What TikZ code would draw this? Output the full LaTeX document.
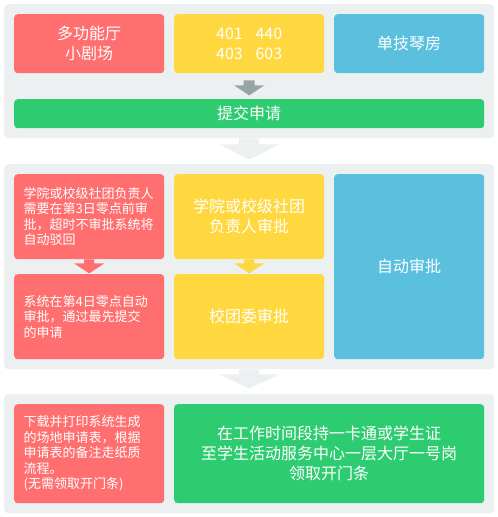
\documentclass[tikz,border=0pt]{standalone}
\usepackage{fontspec}
\setmainfont{Noto Sans CJK SC}
\definecolor{panelgray}{HTML}{ECF0F1}
\definecolor{arrowgray}{HTML}{95A5A6}
\definecolor{cred}{HTML}{FF6F6F}
\definecolor{cyellow}{HTML}{FFD83F}
\definecolor{cblue}{HTML}{5BC0DE}
\definecolor{cgreen}{HTML}{2ECC71}
\tikzset{
  panel/.style={fill=panelgray, rounded corners=4pt, anchor=north west, inner sep=0pt},
  card/.style={rounded corners=3.5pt, anchor=north west, inner sep=0pt, text=white,
    minimum width=150pt},
  bigtxt/.style={font=\fontsize{16}{20}\selectfont, align=center},
  smalltxt/.style={font=\fontsize{13}{15.5}\selectfont, align=left, text width=131pt},
}
% block arrow: #1 colour, #2 start point, #3 shaft half width, #4 shaft end offset,
% #5 head half width, #6 tip offset
\newcommand\blockarr[6]{%
  \begin{scope}[shift={#2}]
    \fill[#1] (-#3,0) -- (#3,0) -- (#3,#4) -- (#5,#4) -- (0,#6) -- (-#5,#4) -- (-#3,#4) -- cycle;
  \end{scope}}
\begin{document}
\begin{tikzpicture}[x=1pt,y=-1pt]
\useasboundingbox (0,0) rectangle (498,517);
% panels
\node[panel, minimum width=490pt, minimum height=134pt] (p1) at (4,4) {};
\node[panel, minimum width=490pt, minimum height=205pt] (p2) at (4,164) {};
\node[panel, minimum width=490pt, minimum height=119pt] (p3) at (4,394) {};
% panel 1
\node[card, fill=cred, minimum height=59pt, bigtxt] (a1) at (14,14) {多功能厅\\小剧场};
\node[card, fill=cyellow, minimum height=59pt, bigtxt] (a2) at (174,14) {401\hspace{0.8em}440\\403\hspace{0.8em}603};
\node[card, fill=cblue, minimum height=59pt, bigtxt] (a3) at (334,14) {单技琴房};
\node[card, fill=cgreen, minimum width=470pt, minimum height=29pt, bigtxt] (sub) at (14,99) {提交申请};
\blockarr{arrowgray}{([yshift=-7pt]a2.south)}{5.5}{5}{15}{15}
% panel 2
\node[card, fill=cred, minimum height=85pt, smalltxt] (b1) at (14,174)
  {学院或校级社团负责人\\需要在第3日零点前审\\批，超时不审批系统将\\自动驳回};
\node[card, fill=cred, minimum height=85pt, smalltxt] (b2) at (14,274)
  {系统在第4日零点自动\\审批，通过最先提交\\的申请};
\node[card, fill=cyellow, minimum height=85pt, bigtxt] (c1) at (174,174) {学院或校级社团\\负责人审批};
\node[card, fill=cyellow, minimum height=85pt, bigtxt] (c2) at (174,274) {校团委审批};
\node[card, fill=cblue, minimum height=185pt, bigtxt] (d1) at (334,174) {自动审批};
\blockarr{cred}{(b1.south)}{5}{4}{15}{14}
\blockarr{cyellow}{(c1.south)}{5}{4}{15}{14}
% panel 3
\node[card, fill=cred, minimum height=99pt, smalltxt] (e1) at (14,404)
  {下载并打印系统生成\\的场地申请表，根据\\申请表的备注走纸质\\流程。\\(无需领取开门条)};
\node[card, fill=cgreen, minimum width=310pt, minimum height=99pt, bigtxt] (e2) at (174,404)
  {在工作时间段持一卡通或学生证\\至学生活动服务中心一层大厅一号岗\\领取开门条};
% panel arrows
\blockarr{panelgray}{(p1.south)}{10}{6}{30}{21}
\blockarr{panelgray}{(p2.south)}{10}{5}{30}{19}
\end{tikzpicture}
\end{document}
